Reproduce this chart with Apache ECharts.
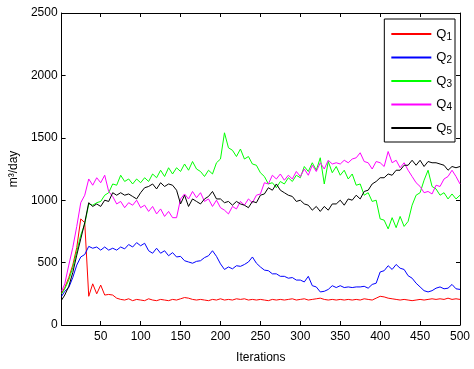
<!DOCTYPE html>
<html>
<head>
<meta charset="utf-8">
<script src="https://cdn.jsdelivr.net/npm/echarts@6/dist/echarts.min.js"></script>
<style>
html,body{margin:0;padding:0;background:#fff;}
#c{width:474px;height:369px;}
</style>
</head>
<body>
<div id="c"></div>
<script>
// Iterations sampled: 1, 5, 10, ..., 500
const iterations = [1,5,10,15,20,25,30,35,40,45,
  50,55,60,65,70,75,80,85,90,95,
  100,105,110,115,120,125,130,135,140,145,
  150,155,160,165,170,175,180,185,190,195,
  200,205,210,215,220,225,230,235,240,245,
  250,255,260,265,270,275,280,285,290,295,
  300,305,310,315,320,325,330,335,340,345,
  350,355,360,365,370,375,380,385,390,395,
  400,405,410,415,420,425,430,435,440,445,
  450,455,460,465,470,475,480,485,490,495,
  500];

const q1 = [255,300,380,480,620,850,820,230,330,250,
  320,240,245,240,215,205,200,210,195,205,
  200,195,210,200,195,205,200,195,205,200,
  210,220,215,205,200,205,200,195,205,200,
  210,200,205,200,210,205,210,200,205,200,
  205,200,195,205,200,205,200,205,210,200,
  205,210,200,205,210,215,205,200,205,200,
  205,200,205,200,205,200,210,205,200,215,
  230,225,215,210,205,200,205,200,195,200,
  205,200,205,210,205,210,205,215,205,210,
  205];

const q2 = [230,270,300,380,480,545,565,630,615,625,
  600,625,600,615,600,625,610,645,625,660,
  635,655,595,575,615,575,595,555,580,545,
  550,515,505,495,510,515,540,555,595,550,
  490,445,465,450,475,470,485,505,545,495,
  465,440,435,410,410,390,390,375,380,360,
  360,345,390,315,305,265,270,285,315,300,
  315,300,305,300,305,305,310,295,325,335,
  425,435,475,445,485,455,445,395,375,335,
  305,275,265,275,295,305,290,295,325,290,
  285];

const q3 = [250,290,360,460,590,720,810,970,960,980,
  990,1040,1060,1130,1120,1200,1150,1170,1130,1170,
  1140,1180,1150,1210,1180,1240,1190,1260,1210,1260,
  1230,1290,1240,1310,1250,1230,1190,1240,1210,1300,
  1330,1540,1420,1400,1350,1410,1330,1350,1290,1280,
  1220,1190,1130,1140,1100,1150,1130,1180,1150,1200,
  1180,1270,1230,1300,1240,1340,1130,1310,1220,1270,
  1200,1240,1170,1210,1120,1130,1040,1060,990,1000,
  850,840,770,860,780,870,790,830,960,1040,
  1060,1160,1240,1110,1090,1040,1060,1010,1050,1010,
  1040];

const q4 = [270,330,480,620,790,980,1040,1170,1120,1180,
  1140,1200,1070,1030,970,990,940,980,960,1000,
  940,960,910,950,890,930,870,910,860,860,
  1010,1050,1010,1070,1020,1060,990,1010,950,1000,
  940,920,890,950,930,990,960,1010,980,1040,
  1050,1140,1130,1200,1170,1210,1160,1200,1170,1230,
  1190,1250,1200,1280,1230,1300,1250,1320,1290,1300,
  1290,1320,1300,1330,1340,1380,1310,1300,1250,1310,
  1300,1270,1390,1300,1320,1260,1300,1240,1190,1140,
  1110,1060,1070,1050,1120,1110,1170,1190,1240,1190,
  1130];

const q5 = [200,240,310,420,560,690,820,980,950,970,
  950,1000,990,1060,1040,1060,1040,1050,1030,1010,
  1060,1100,1110,1130,1090,1140,1110,1130,1120,1080,
  970,1040,950,1010,990,970,1010,1030,1070,1010,
  1010,980,990,960,990,970,960,940,990,980,
  1040,1050,1100,1080,1130,1080,1060,1040,1030,990,
  1000,970,960,920,950,910,950,920,970,970,
  1000,960,1010,1000,1040,1010,1070,1080,1130,1150,
  1180,1180,1210,1200,1240,1240,1280,1280,1320,1280,
  1320,1270,1310,1300,1300,1290,1280,1240,1270,1260,
  1270];

const seriesNames = ['Q1','Q2','Q3','Q4','Q5'];
const seriesColors = ['#ff0000','#0000ff','#00ff00','#ff00ff','#000000'];
const seriesValues = [q1,q2,q3,q4,q5];
const xTicks = [50,100,150,200,250,300,350,400,450,500];
const xLabel = 'Iterations';
const yLabel = 'm³/day';

const FONT = 'Liberation Sans, Arial, sans-serif';
const chart = echarts.init(document.getElementById('c'), null, {renderer:'canvas'});

const axisLineStyle = {show:true, onZero:false, lineStyle:{color:'#000', width:1}};
const option = {
  animation:false,
  backgroundColor:'#fff',
  grid:{left:49, top:13, width:411, height:322, containLabel:false},
  legend:{
    orient:'vertical', right:19, top:19,
    backgroundColor:'#fff', borderColor:'#000', borderWidth:1,
    padding:[5,3,6,6], itemGap:5.5, itemWidth:40, itemHeight:16,
    itemStyle:{opacity:0},
    data:seriesNames,
    formatter:function(n){return '{q|Q}{s|'+n.slice(1)+'}';},
    textStyle:{
      fontFamily:FONT, color:'#000',
      rich:{
        q:{fontSize:13, fontFamily:FONT, color:'#000', lineHeight:16},
        s:{fontSize:10, fontFamily:FONT, color:'#000', verticalAlign:'bottom', lineHeight:16, padding:[8,0,0,0]}
      }
    }
  },
  xAxis:[{
    type:'value', min:1, max:500, position:'bottom',
    name:xLabel, nameLocation:'middle', nameGap:27,
    nameTextStyle:{fontFamily:FONT, fontSize:12, color:'#000'},
    axisLine:axisLineStyle,
    axisTick:{show:true, inside:true, length:4, customValues:xTicks, lineStyle:{color:'#000'}},
    axisLabel:{show:true, customValues:xTicks, fontFamily:FONT, fontSize:12, color:'#000', margin:6,
      formatter:function(v){return String(v);}},
    splitLine:{show:false}
  },{
    type:'value', min:1, max:500, position:'top',
    axisLine:axisLineStyle,
    axisTick:{show:true, inside:true, length:4, customValues:xTicks, lineStyle:{color:'#000'}},
    axisLabel:{show:false},
    splitLine:{show:false}
  }],
  yAxis:[{
    type:'value', min:0, max:2500, interval:500, position:'left',
    name:yLabel, nameLocation:'middle', nameGap:30, nameRotate:90,
    nameTextStyle:{fontFamily:FONT, fontSize:12, color:'#000'},
    axisLine:axisLineStyle,
    axisTick:{show:true, inside:true, length:4, lineStyle:{color:'#000'}},
    axisLabel:{fontFamily:FONT, fontSize:12, color:'#000', margin:4,
      formatter:function(v){return String(v);}},
    splitLine:{show:false}
  },{
    type:'value', min:0, max:2500, interval:500, position:'right',
    axisLine:axisLineStyle,
    axisTick:{show:true, inside:true, length:4, lineStyle:{color:'#000'}},
    axisLabel:{show:false},
    splitLine:{show:false}
  }],
  series: seriesNames.map(function(name,i){
    return {
      name:name, type:'line', xAxisIndex:0, yAxisIndex:0,
      symbol:'none', showSymbol:false,
      lineStyle:{color:seriesColors[i], width:1},
      itemStyle:{color:seriesColors[i]},
      data: iterations.map(function(x,k){return [x, seriesValues[i][k]];})
    };
  })
};
chart.setOption(option);
</script>
</body>
</html>
